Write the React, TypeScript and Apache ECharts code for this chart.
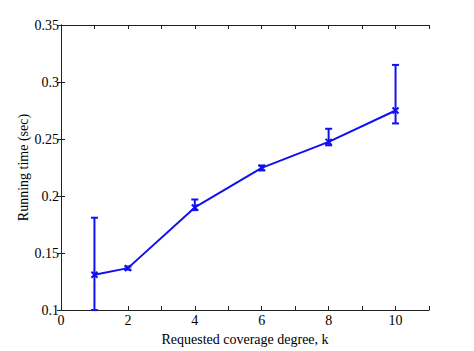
import React, { useEffect, useRef } from "react";
import * as echarts from "echarts";

const ks = [1, 2, 4, 6, 8, 10];
const means = [0.131, 0.1368, 0.19, 0.2247, 0.2475, 0.275];
const lows = [0.1, 0.1355, 0.1877, 0.2225, 0.2445, 0.2637];
const highs = [0.181, 0.1382, 0.197, 0.2268, 0.259, 0.315];
const xTicks = [0, 2, 4, 6, 8, 10];
const yTickLabels = ["0.1", "0.15", "0.2", "0.25", "0.3", "0.35"];

const BLUE = "#1010f0";
const FONT = "Liberation Serif";

export default function App() {
  const ref = useRef<HTMLDivElement>(null);
  useEffect(() => {
    if (!ref.current) return;
    const chart = echarts.init(ref.current, undefined, { renderer: "svg" });
    const lineData = ks.map((k, i) => [k, means[i]]);
    const errData = ks.map((k, i) => [k, lows[i], highs[i], means[i]]);
    const axisLine = { show: true, lineStyle: { color: "#222", width: 1 } };
    const xTick = {
      inside: true,
      length: 4,
      lineStyle: { color: "#222" },
      interval: (idx: number, v: any) => xTicks.includes(Number(v)),
    };
    chart.setOption({
      animation: false,
      grid: { left: 61, top: 25, right: 45, bottom: 39, show: false },
      xAxis: [
        {
          type: "value",
          min: 0,
          max: 11,
          interval: 1,
          position: "bottom",
          name: "Requested coverage degree, k",
          nameLocation: "middle",
          nameGap: 18,
          nameTextStyle: { fontFamily: FONT, fontSize: 14, color: "#000" },
          axisLine,
          axisTick: xTick,
          axisLabel: {
            fontFamily: FONT,
            fontSize: 14,
            color: "#000",
            margin: 3,
            formatter: (v: number) => (xTicks.includes(v) ? String(v) : ""),
          },
          splitLine: { show: false },
        },
        {
          type: "value",
          min: 0,
          max: 11,
          interval: 1,
          position: "top",
          axisLine,
          axisTick: xTick,
          axisLabel: { show: false },
          splitLine: { show: false },
        },
      ],
      yAxis: [
        {
          type: "value",
          min: 0.1,
          max: 0.35,
          interval: 0.05,
          position: "left",
          name: "Running time (sec)",
          nameLocation: "middle",
          nameGap: 38,
          nameMoveOverlap: false,
          nameRotate: 90,
          nameTextStyle: { fontFamily: FONT, fontSize: 14, color: "#000", verticalAlign: "middle" },
          axisLine,
          axisTick: { inside: true, length: 4, lineStyle: { color: "#222" } },
          axisLabel: {
            fontFamily: FONT,
            fontSize: 14,
            color: "#000",
            margin: 2,
            formatter: (v: number) => {
              const idx = Math.round((v - 0.1) / 0.05);
              return yTickLabels[idx] ?? "";
            },
          },
          splitLine: { show: false },
        },
        {
          type: "value",
          min: 0.1,
          max: 0.35,
          interval: 0.05,
          position: "right",
          axisLine,
          axisTick: { inside: true, length: 4, lineStyle: { color: "#222" } },
          axisLabel: { show: false },
          splitLine: { show: false },
        },
      ],
      series: [
        {
          type: "line",
          data: lineData,
          symbol: "none",
          lineStyle: { color: BLUE, width: 2 },
          z: 2,
        },
        {
          type: "custom",
          data: errData,
          z: 3,
          renderItem: (params: any, api: any) => {
            const x = api.value(0);
            const lo = api.coord([x, api.value(1)]);
            const hi = api.coord([x, api.value(2)]);
            const m = api.coord([x, api.value(3)]);
            const cw = 3.5;
            const ms = 3;
            const style = { stroke: BLUE, lineWidth: 2, fill: "none" };
            return {
              type: "group",
              children: [
                { type: "line", shape: { x1: lo[0], y1: lo[1], x2: hi[0], y2: hi[1] }, style },
                { type: "line", shape: { x1: lo[0] - cw, y1: lo[1], x2: lo[0] + cw, y2: lo[1] }, style },
                { type: "line", shape: { x1: hi[0] - cw, y1: hi[1], x2: hi[0] + cw, y2: hi[1] }, style },
                { type: "line", shape: { x1: m[0] - ms, y1: m[1] - ms, x2: m[0] + ms, y2: m[1] + ms }, style },
                { type: "line", shape: { x1: m[0] - ms, y1: m[1] + ms, x2: m[0] + ms, y2: m[1] - ms }, style },
              ],
            };
          },
        },
      ],
    });
    return () => chart.dispose();
  }, []);
  return (
    <div
      ref={ref}
      style={{ width: 474, height: 351, position: "absolute", left: 0, top: 0, background: "#fff" }}
    />
  );
}
